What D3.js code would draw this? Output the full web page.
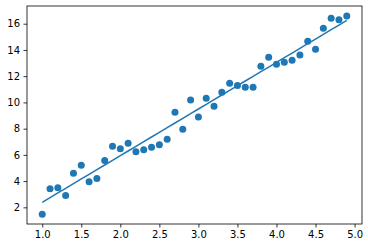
<!DOCTYPE html>
<html>
<head>
<meta charset="utf-8">
<script src="https://cdn.jsdelivr.net/npm/d3@7"></script>
<style>
  body { margin: 0; background: #fff; }
  svg { display: block; }
  .tick text { font-family: "DejaVu Sans", sans-serif; font-size: 10px; fill: #000; }
</style>
</head>
<body>
<div id="viz"></div>
<script>
// data
var xs = [1.0, 1.1, 1.2, 1.3, 1.4, 1.5, 1.6, 1.7, 1.8, 1.9,
          2.0, 2.1, 2.2, 2.3, 2.4, 2.5, 2.6, 2.7, 2.8, 2.9,
          3.0, 3.1, 3.2, 3.3, 3.4, 3.5, 3.6, 3.7, 3.8, 3.9,
          4.0, 4.1, 4.2, 4.3, 4.4, 4.5, 4.6, 4.7, 4.8, 4.9];
var ys = [1.47, 3.42, 3.5, 2.9, 4.6, 5.2, 3.95, 4.2, 5.58, 6.65,
          6.47, 6.88, 6.24, 6.4, 6.58, 6.78, 7.19, 9.25, 7.95, 10.18,
          8.89, 10.31, 9.7, 10.77, 11.46, 11.28, 11.15, 11.15, 12.76, 13.44,
          12.9, 13.06, 13.21, 13.62, 14.66, 14.05, 15.65, 16.42, 16.31, 16.59];
var xTicks = [1.0, 1.5, 2.0, 2.5, 3.0, 3.5, 4.0, 4.5, 5.0];
var yTicks = [2, 4, 6, 8, 10, 12, 14, 16];

var W = 368, H = 248,
    margin = {top: 6, right: 6, bottom: 24, left: 27},
    width = W - margin.left - margin.right,
    height = H - margin.top - margin.bottom;

// least squares fit line
var mx = d3.mean(xs), my = d3.mean(ys);
var num = d3.sum(xs, function(d, i) { return (d - mx) * (ys[i] - my); });
var den = d3.sum(xs, function(d) { return (d - mx) * (d - mx); });
var slope = num / den, icpt = my - slope * mx;
var fit = xs.map(function(d) { return [d, icpt + slope * d]; });

var x = d3.scaleLinear().domain([0.805, 5.095]).range([0, width]);
var y = d3.scaleLinear().domain([0.73, 17.35]).range([height, 0]);

var svg = d3.select('#viz').append('svg')
    .attr('width', W).attr('height', H);

var g = svg.append('g')
    .attr('transform', 'translate(' + margin.left + ',' + margin.top + ')');

g.append('path')
    .datum(fit)
    .attr('fill', 'none')
    .attr('stroke', '#1f77b4')
    .attr('stroke-width', 1.5)
    .attr('d', d3.line().x(function(d) { return x(d[0]); }).y(function(d) { return y(d[1]); }));

g.selectAll('circle')
    .data(xs)
    .enter().append('circle')
    .attr('cx', function(d) { return x(d); })
    .attr('cy', function(d, i) { return y(ys[i]); })
    .attr('r', 3.5)
    .attr('fill', '#1f77b4');

var xAxis = g.append('g')
    .attr('transform', 'translate(0,' + height + ')')
    .call(d3.axisBottom(x).tickValues(xTicks).tickFormat(d3.format('.1f'))
        .tickSize(3.5).tickPadding(3.5));
var yAxis = g.append('g')
    .call(d3.axisLeft(y).tickValues(yTicks).tickSize(3.5).tickPadding(3.5));

[xAxis, yAxis].forEach(function(a) {
    a.select('.domain').remove();
    a.selectAll('.tick line').attr('stroke', '#000').attr('stroke-width', 0.8);
});

g.append('rect')
    .attr('width', width).attr('height', height)
    .attr('fill', 'none')
    .attr('stroke', '#000')
    .attr('stroke-width', 0.8);
</script>
</body>
</html>
